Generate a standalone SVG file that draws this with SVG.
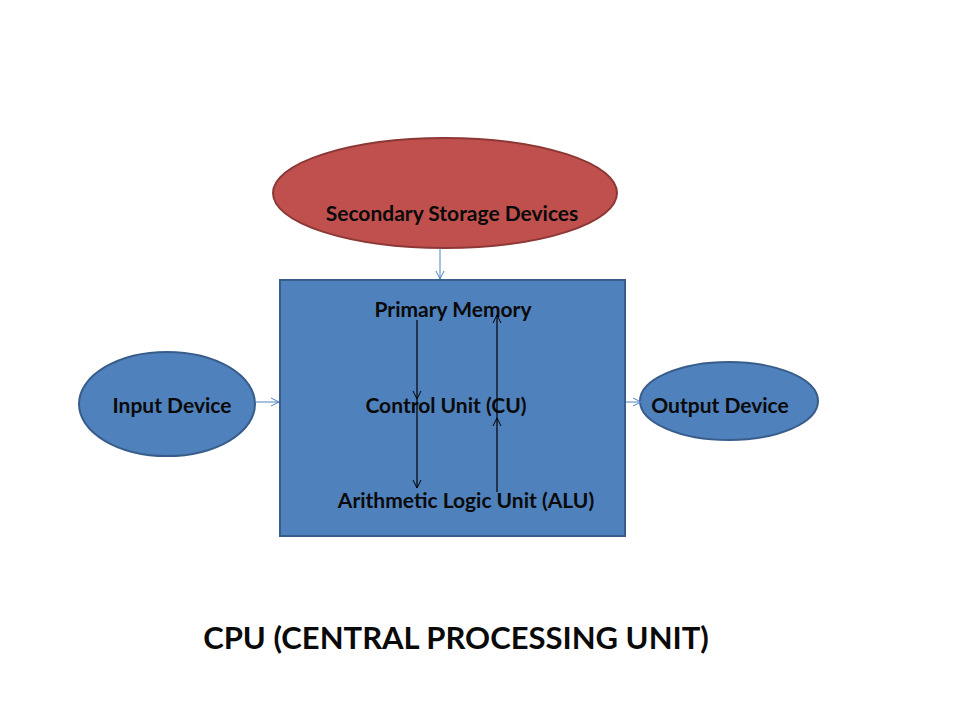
<svg xmlns="http://www.w3.org/2000/svg" width="960" height="720" viewBox="0 0 960 720">
<style>
text{font-family:Lato,"Liberation Sans",sans-serif;font-weight:bold;fill:#0a0a0a;text-anchor:middle}
.b{fill:#4f81bd;stroke:#385d8a;stroke-width:2}
.c{stroke:#4f81bd;stroke-width:1;fill:none}
.k{stroke:#000;stroke-width:1.2;fill:none}
</style>
<defs>
<marker id="ab" markerWidth="10" markerHeight="10" refX="9" refY="5" orient="auto" markerUnits="userSpaceOnUse"><path d="M1,1 L9,5 L1,9" fill="none" stroke="#4f81bd"/></marker>
<marker id="ak" markerWidth="10" markerHeight="10" refX="9" refY="5" orient="auto" markerUnits="userSpaceOnUse"><path d="M1,1 L9,5 L1,9" fill="none" stroke="#000"/></marker>
</defs>
<rect width="960" height="720" fill="#fff"/>
<g id="storage"><ellipse cx="445" cy="193" rx="172" ry="55" fill="#c0504d" stroke="#8c3836" stroke-width="2"/><text x="452" y="221" font-size="21">Secondary Storage Devices</text></g>
<g id="cpu"><rect x="280" y="280" width="345" height="256" class="b"/>
<text x="453" y="317" font-size="21">Primary Memory</text>
<text x="446" y="413" font-size="21">Control Unit (CU)</text>
<text x="466" y="508" font-size="21">Arithmetic Logic Unit (ALU)</text></g>
<g id="input"><ellipse cx="167" cy="404" rx="88" ry="52" class="b"/><text x="172" y="413" font-size="21">Input Device</text></g>
<g id="output"><ellipse cx="729" cy="401" rx="89" ry="39" class="b"/><text x="720" y="413" font-size="21">Output Device</text></g>
<g id="connectors">
<line x1="440" y1="248" x2="440" y2="279" class="c" marker-end="url(#ab)"/>
<line x1="255" y1="402" x2="279" y2="402" class="c" marker-end="url(#ab)"/>
<line x1="626" y1="402" x2="641" y2="402" class="c" marker-end="url(#ab)"/>
<line x1="417" y1="320" x2="417" y2="399" class="k" marker-end="url(#ak)"/>
<line x1="417" y1="399" x2="417" y2="488" class="k" marker-end="url(#ak)"/>
<line x1="497" y1="492" x2="497" y2="418" class="k" marker-end="url(#ak)"/>
<line x1="497" y1="418" x2="497" y2="315" class="k" marker-end="url(#ak)"/>
</g>
<text x="456" y="649" font-size="31">CPU (CENTRAL PROCESSING UNIT)</text>
</svg>
